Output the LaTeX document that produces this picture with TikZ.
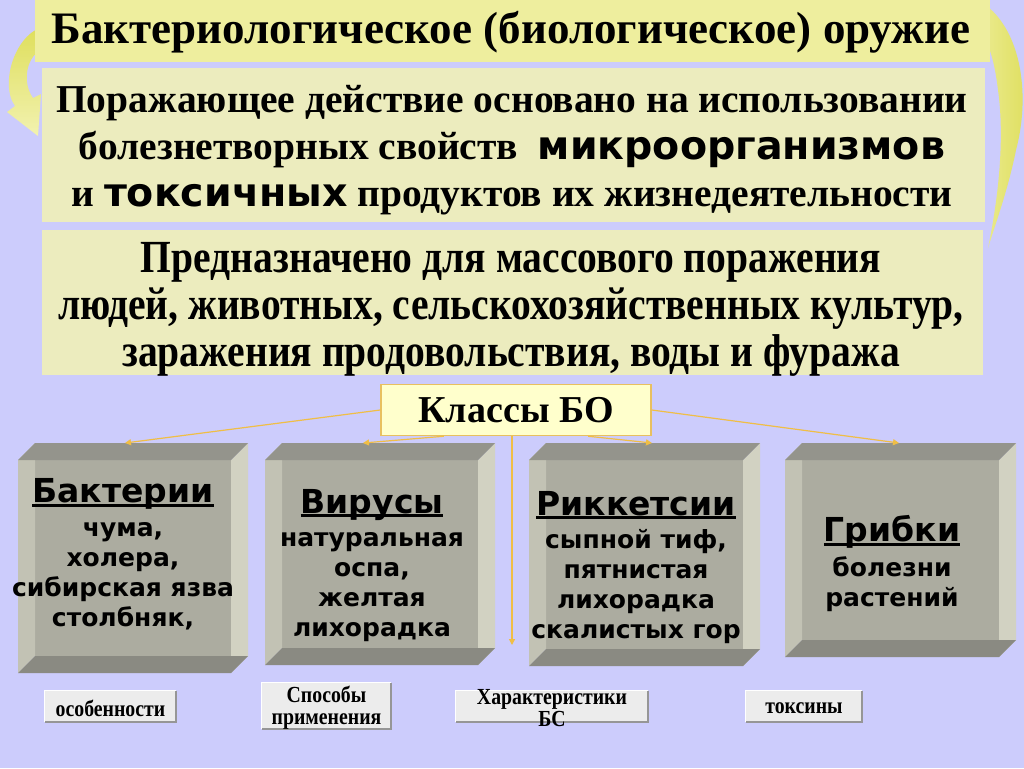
\documentclass[tikz,border=0pt]{standalone}
\usepackage{fontspec}
\setmainfont{Liberation Serif}
\newfontfamily\heavysans{DejaVu Sans}
\newfontfamily\narrowserif[FakeStretch=0.86]{Liberation Serif}
\usetikzlibrary {positioning}
\usetikzlibrary{arrows.meta}
\usetikzlibrary{calc}

\definecolor{lavender}{RGB}{204,204,252}
\definecolor{titlefill}{RGB}{238,238,158}
\definecolor{panelfill}{RGB}{236,236,190}
\definecolor{classfill}{RGB}{255,255,204}
\definecolor{classedge}{RGB}{232,192,96}
\definecolor{linkgold}{RGB}{240,190,70}
\definecolor{cubeface}{RGB}{172,172,160}
\definecolor{cubetop}{RGB}{148,148,140}
\definecolor{cubebottom}{RGB}{138,138,130}
\definecolor{cubeleft}{RGB}{194,194,180}
\definecolor{cuberight}{RGB}{210,210,194}
\definecolor{btnfill}{RGB}{236,236,236}
\definecolor{btnshade}{RGB}{150,150,150}
\definecolor{arrowyellow}{RGB}{222,222,90}
\definecolor{arrowpale}{RGB}{242,242,176}

\newcommand\headline[1]{\setbox0\hbox{#1}\rlap{\copy0}\rule[-4pt]{\wd0}{3pt}}

\begin{document}
\begin{tikzpicture}[x=1pt, y=-1pt,
    titletext/.style={font=\bfseries\fontsize{45}{48}\selectfont},
    paneltext/.style={font=\bfseries\fontsize{39.5}{47}\selectfont, align=center},
    purposetext/.style={font=\narrowserif\bfseries\fontsize{46}{47}\selectfont, align=center},
    classbox/.style={draw=classedge, line width=1.5pt, fill=classfill, minimum width=270, minimum height=51,
      font=\bfseries\fontsize{38}{40}\selectfont},
    link/.style={linkgold, line width=1.2pt, -{Triangle[length=6pt, width=6pt]}},
    cube head/.style={font=\heavysans\bfseries\fontsize{33}{36}\selectfont},
    cube list/.style={font=\heavysans\bfseries\fontsize{25}{30}\selectfont, align=center},
    button/.style={fill=btnfill, inner sep=0pt},
    button text/.style={font=\narrowserif\bfseries\fontsize{23}{22}\selectfont, align=center}]

	% Background and page size
	\useasboundingbox (0,0) rectangle (1024,768);
	\fill[lavender] (0,0) rectangle (1024,768);

	% Curved arrows behind the panels
	\shade[top color=arrowyellow, bottom color=arrowpale]
	  (50,26) .. controls (18,26) and (-2,82) .. (15,106) -- (7,112) -- (38,136) -- (41,94)
	  -- (33,98) .. controls (20,80) and (28,48) .. (50,48) -- cycle;
	\shade[left color=arrowpale, right color=arrowyellow]
	  (968,-5) .. controls (1020,15) and (1032,90) .. (1016,150) .. controls (1008,190) and (995,225) .. (988,248)
	  .. controls (998,200) and (1005,140) .. (998,90) .. controls (993,50) and (985,25) .. (950,-5) -- cycle;

	% Panels
	\fill[titlefill] (35,0) rectangle (990,62);
	\fill[panelfill] (42,68) rectangle (985,222);
	\fill[panelfill] (42,230) rectangle (983,375);

	\node[titletext] (title) at (511,32) {Бактериологическое (биологическое) оружие};
	\node[paneltext] (damage) at (512,150) {Поражающее действие основано на использовании\\
	  болезнетворных свойств\ \ {\heavysans\bfseries микроорганизмов}\\
	  и {\heavysans\bfseries токсичных} продуктов их жизнедеятельности};
	\node[purposetext] (purpose) at (511,309) {Предназначено для массового поражения\\
	  людей, животных, сельскохозяйственных культур,\\
	  заражения продовольствия, воды и фуража};

	% Cubes for the classes
	\def\bev{17}
	\foreach \name/\xa/\ya/\xb/\yb/\tx in {bact/18/443/248/673/125, vir/265/443/495/665/363,
	                                       rick/529/443/760/666/652, grib/785/443/1016/657/899} {
	  \fill[cubeface] (\xa+\bev,\ya+\bev) rectangle (\xb-\bev,\yb-\bev);
	  \fill[cubeleft] (\xa,\ya+\bev) -- (\xa+\bev,\ya) -- (\xa+\bev,\yb-\bev) -- (\xa,\yb) -- cycle;
	  \fill[cuberight] (\xb-\bev,\ya+\bev) -- (\xb,\ya) -- (\xb,\yb-\bev) -- (\xb-\bev,\yb) -- cycle;
	  \fill[cubetop] (\xa,\ya+\bev) -- (\xa+\bev,\ya) -- (\xb,\ya) -- (\xb-\bev,\ya+\bev) -- cycle;
	  \fill[cubebottom] (\xa,\yb) -- (\xa+\bev,\yb-\bev) -- (\xb,\yb-\bev) -- (\xb-\bev,\yb) -- cycle;
	  \coordinate (\name-top) at (\tx,\ya);
	}

	\node[cube head] (bact-head) at (123,494) {\headline{Бактерии}};
	\node[cube list] (bact-list) at (123,576) {чума,\\ холера,\\ сибирская язва\\ столбняк,};
	\node[cube head] (vir-head) at (372,505) {\headline{Вирусы}};
	\node[cube list] (vir-list) at (372,587) {натуральная\\ оспа,\\ желтая\\ лихорадка};
	\node[cube head] (rick-head) at (636,505) {\headline{Риккетсии}};
	\node[cube list] (rick-list) at (636,587) {сыпной тиф,\\ пятнистая\\ лихорадка\\ скалистых гор};
	\node[cube head] (grib-head) at (892,532) {\headline{Грибки}};
	\node[cube list] (grib-list) at (892,584) {болезни\\ растений};

	% Classes box and its links
	\node[classbox] (classes) at (516,410) {Классы БО};
	\coordinate (classes-end) at (512,645);
	\draw[link] (classes.west) -- (bact-top);
	\draw[link] (classes.-160) -- (vir-top);
	\draw[link] (classes.-20) -- (rick-top);
	\draw[link] (classes.east) -- (grib-top);
	\draw[link] (classes.south -| classes-end) -- (classes-end);

	% Buttons at the bottom
	\foreach \name/\cx/\cy/\w/\h/\txt in {feat/110.5/706.5/131/31/особенности,
	                                     means/326.5/706/129/46/{Способы\\применения},
	                                     chars/552/706.5/192/31/{Характеристики\\БС},
	                                     toxin/804/706.5/116/31/токсины} {
	  \node[button, minimum width=\w, minimum height=\h] (\name) at (\cx,\cy) {};
	  \draw[white, line width=1.2pt] (\name.south west) -- (\name.north west) -- (\name.north east);
	  \draw[btnshade, line width=1.5pt] (\name.north east) -- (\name.south east) -- (\name.south west);
	  \node[button text] (\name-text) at (\cx,\cy+2) {\txt};
	}
\end{tikzpicture}
\end{document}
